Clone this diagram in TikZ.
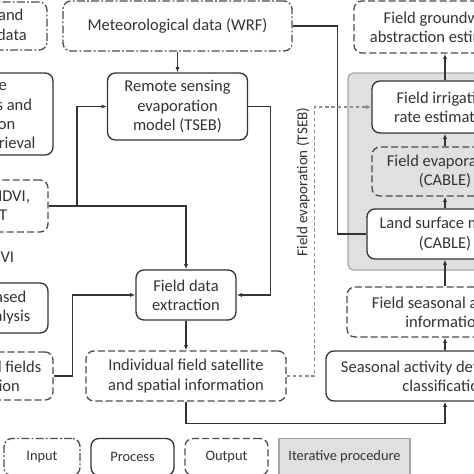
\documentclass[tikz,border=0pt]{standalone}
\usepackage{fontspec}
\setmainfont{Carlito}
\usetikzlibrary{arrows.meta}

\begin{document}
\begin{tikzpicture}[x=0.02cm, y=-0.02cm, font=\fontsize{9.4}{11}\selectfont, text=black!80, >={Latex[length=3pt,width=2.4pt]}]
    \tikzstyle{every node}=[align=center, inner sep=0pt, rounded corners=4.5pt, line width=0.75pt]
    \tikzstyle{inputbox}=[draw=black!70, dash pattern=on 4.5pt off 1.3pt on 1pt off 1.3pt]
    \tikzstyle{processbox}=[draw=black!80, fill=white]
    \tikzstyle{outputbox}=[draw=black!70, dash pattern=on 4pt off 1.8pt]
    \tikzstyle{iterbox}=[draw=black!35, fill=black!12, rounded corners=3pt]
    \tikzstyle{legend}=[minimum height=0.74cm, font=\fontsize{8.2}{10}\selectfont]
    \tikzstyle{link}=[->, line width=0.6pt, draw=black!80]
    \tikzstyle{tseb}=[->, line width=0.6pt, draw=black!45, dash pattern=on 2pt off 1.5pt]

    \useasboundingbox (0,0) rectangle (474,474);
    \clip (0,0) rectangle (474,474);

% Left column: inputs and pre-processing
    \node[inputbox, minimum width=2.6cm, minimum height=0.96cm] (sat) at (-18,26) {Satellite and\\ancillary data};
    \node[processbox, minimum width=2.92cm, minimum height=1.64cm] (prep) at (-20,114) {Satellite\\corrections and\\calibration\\and LST retrieval};
    \node[outputbox, minimum width=2.08cm, minimum height=1.04cm] (evi) at (-4,206) {EVI, NDVI,\\LST};
    \node (ndvi) at (-3,257) {NDVI};
    \node[processbox, minimum width=2.64cm, minimum height=1cm] (obia) at (-18,308) {Object-based\\image analysis};
    \node[outputbox, minimum width=2.4cm, minimum height=0.96cm] (fields) at (-7,376) {Irrigated fields\\location};

% Middle column
    \node[inputbox, minimum width=4.58cm, minimum height=1cm] (met) at (177.5,26) {Meteorological data (WRF)};
    \node[processbox, minimum width=2.8cm, minimum height=1.34cm] (rs) at (177.5,106.5) {Remote sensing\\evaporation\\model (TSEB)};
    \node[processbox, minimum width=2cm, minimum height=1cm] (fde) at (186,295) {Field data\\extraction};
    \node[outputbox, minimum width=4cm, minimum height=1cm] (indiv) at (186,376) {Individual field satellite\\and spatial information};

% Right column with the iterative procedure
    \node[iterbox, minimum width=3.84cm, minimum height=3.94cm] (iter) at (444,171.5) {};
    \node[outputbox, minimum width=3.64cm, minimum height=1.04cm] (gw) at (445,27) {Field groundwater\\abstraction estimation};
    \node[processbox, minimum width=2.92cm, minimum height=1.04cm] (irrig) at (445,107) {Field irrigation\\rate estimation};
    \node[outputbox, minimum width=2.92cm, minimum height=0.98cm] (evap) at (445,171.5) {Field evaporation\\(CABLE)};
    \node[processbox, minimum width=3.12cm, minimum height=1cm] (lsm) at (445,234) {Land surface model\\(CABLE)};
    \node[outputbox, minimum width=3.92cm, minimum height=1cm] (sinfo) at (445,312) {Field seasonal activity\\information};
    \node[processbox, minimum width=4.76cm, minimum height=1cm] (sact) at (445,376) {Seasonal activity detection and\\classification};

    \coordinate (split) at (77,206);
    \draw[link] (met) -- (rs);
    \draw[link] (evi.east) -| (fde.north);
    \draw[link] (split) |- (rs.west);
    \draw[link] (rs.east) -- ++(22,0) |- (fde.east);
    \draw[link] (fields.east) -- ++(19,0) |- (fde.west);
    \draw[link] (fde) -- (indiv);
    \draw[link] (indiv.south) -- ++(0,22) -| (sact.south);
    \draw[link] (sact) -- (sinfo);
    \draw[link] (sinfo) -- (lsm);
    \draw[link] (lsm) -- (evap);
    \draw[link] (evap) -- (irrig);
    \draw[link] (irrig) -- (gw);
    \draw[link, -] (met.east) -- ++(45,0) |- (lsm.west);
    \draw[tseb] (indiv.east) -- ++(28,0) |- (irrig.west);
    \node[rotate=90, font=\fontsize{8.6}{10}\selectfont] (tseblabel) at (303,182) {Field evaporation (TSEB)};

% Legend
    \node[inputbox, legend, minimum width=1.52cm] (leginput) at (42,457) {Input};
    \node[processbox, legend, minimum width=1.66cm] (legprocess) at (132.5,457) {Process};
    \node[outputbox, legend, minimum width=1.66cm] (legoutput) at (226.5,457) {Output};
    \node[iterbox, legend, sharp corners, minimum width=2.62cm] (legiter) at (344.5,457) {Iterative procedure};
\end{tikzpicture}
\end{document}
